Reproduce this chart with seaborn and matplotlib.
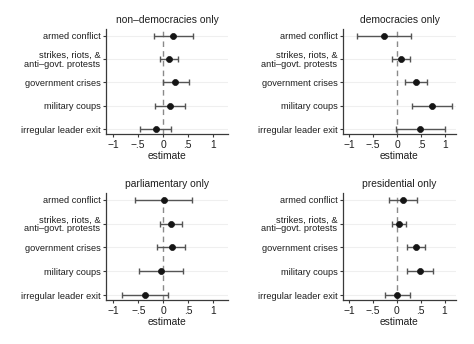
import matplotlib
matplotlib.use("Agg")
import matplotlib.pyplot as plt
import matplotlib.transforms as mtransforms
import seaborn as sns
import pandas as pd
import numpy as np

sns.set_theme(style="white")
plt.rcParams['font.family'] = ['Liberation Sans', 'DejaVu Sans']

categories = ["armed conflict", "strikes, riots, &\nanti\u2013govt. protests",
              "government crises", "military coups", "irregular leader exit"]
titles = ["non\u2013democracies only", "democracies only",
          "parliamentary only", "presidential only"]

est_nondem = [0.20, 0.12, 0.25, 0.15, -0.15]
lo_nondem = [-0.19, -0.07, 0.00, -0.17, -0.47]
hi_nondem = [0.60, 0.31, 0.53, 0.44, 0.17]

est_dem = [-0.27, 0.08, 0.39, 0.72, 0.48]
lo_dem = [-0.84, -0.10, 0.16, 0.31, -0.03]
hi_dem = [0.29, 0.27, 0.62, 1.14, 1.00]

est_parl = [0.01, 0.15, 0.17, -0.05, -0.37]
lo_parl = [-0.56, -0.07, -0.12, -0.49, -0.82]
hi_parl = [0.58, 0.37, 0.44, 0.40, 0.09]

est_pres = [0.13, 0.04, 0.40, 0.48, 0.01]
lo_pres = [-0.17, -0.11, 0.21, 0.21, -0.25]
hi_pres = [0.43, 0.20, 0.60, 0.76, 0.27]

xticks = [-1, -0.5, 0, 0.5, 1]
xticklabels = ["\u22121", "\u2212.5", "0", ".5", "1"]

panels = [
    (est_nondem, lo_nondem, hi_nondem, (-1.15, 1.31)),
    (est_dem, lo_dem, hi_dem, (-1.13, 1.23)),
    (est_parl, lo_parl, hi_parl, (-1.15, 1.30)),
    (est_pres, lo_pres, hi_pres, (-1.13, 1.24)),
]

W, H = 474, 344
fig = plt.figure(figsize=(W / 100, H / 100), dpi=100)
fig.patch.set_facecolor("white")

# axes boxes in pixels: left, top, width, height
boxes = [(106, 29, 122, 105), (343, 29, 113, 105),
         (106, 193, 122, 107), (343, 193, 113, 107)]

label_offsets_px = [0, 1.5, 5, 5, 5]
spine_col = "#3a3a3a"
text_col = "#1f1f1f"

for (est, lo, hi, xlim), title, (l, t, w, h) in zip(panels, titles, boxes):
    ax = fig.add_axes([l / W, 1 - (t + h) / H, w / W, h / H])
    ypos = np.arange(1, len(categories) + 1)
    df = pd.DataFrame({"cat": categories, "y": ypos, "est": est, "lo": lo, "hi": hi})

    for yy in ypos:
        ax.axhline(yy, color="#efefef", lw=0.8, zorder=0)
    ax.axvline(0, color="#8a8a8a", lw=1.0, ls=(0, (4, 3)), zorder=1)

    ax.errorbar(df["est"], df["y"], xerr=[df["est"] - df["lo"], df["hi"] - df["est"]],
                fmt="none", ecolor="#555555", elinewidth=1.0, capsize=1.9,
                capthick=1.0, zorder=2)
    sns.scatterplot(data=df, x="est", y="y", ax=ax, color="#151515", s=19,
                    edgecolor="#151515", linewidth=0.5, zorder=3, legend=False)

    ax.set_xlim(*xlim)
    ax.set_ylim(5.2, 0.72)
    ax.set_xticks(xticks)
    ax.set_xticklabels(xticklabels, fontsize=7.4, color=text_col)
    ax.set_yticks(ypos)
    ax.set_yticklabels(categories, fontsize=6.7, color=text_col, linespacing=0.95)
    for lab, off in zip(ax.get_yticklabels(), label_offsets_px):
        lab.set_transform(lab.get_transform() +
                          mtransforms.ScaledTranslation(0, off / 100, fig.dpi_scale_trans))
    ax.tick_params(axis="both", direction="out", length=2.5, width=0.8,
                   color=spine_col, pad=1.5, left=True, bottom=True)
    ax.set_xlabel("estimate", fontsize=7.4, color=text_col, labelpad=1)
    ax.set_ylabel("")
    ax.set_title(title, fontsize=7.4, color=text_col, pad=4)
    for s in ["top", "right"]:
        ax.spines[s].set_visible(False)
    for s in ["left", "bottom"]:
        ax.spines[s].set_color(spine_col)
        ax.spines[s].set_linewidth(0.9)
    ax.set_facecolor("white")

fig.savefig("out.png", dpi=100, facecolor="white")
